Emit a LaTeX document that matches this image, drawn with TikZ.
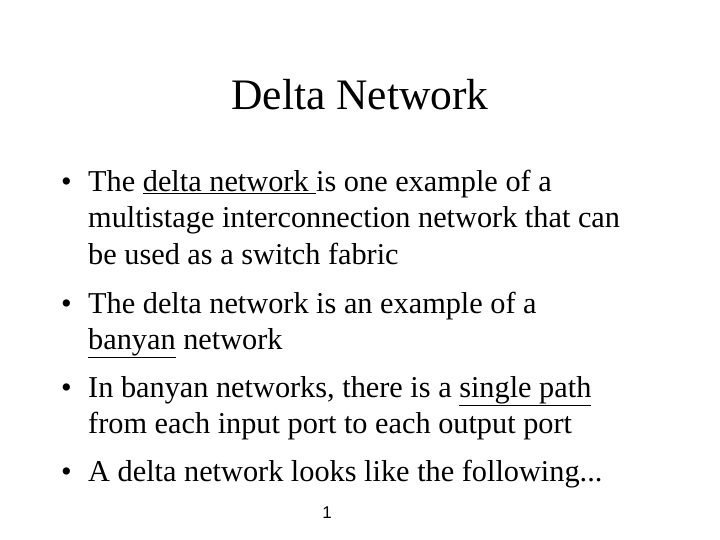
\documentclass[tikz,border=0pt]{standalone}
\usepackage{fontspec}
\setmainfont{Liberation Serif}
\newfontfamily\numfont{Liberation Sans}
\begin{document}
\begin{tikzpicture}[x=1pt,y=-1pt,
  line/.style={anchor=base west,inner sep=0pt,font=\fontsize{30.3}{34}\selectfont},
  bul/.style={anchor=base west,inner sep=0pt,font=\fontsize{30.3}{34}\selectfont}]
\useasboundingbox (0,0) rectangle (720,540);
\node[anchor=base,inner sep=0pt,font=\fontsize{43.5}{50}\selectfont] (title) at (360,110) {Delta Network};
\node[bul] (b1) at (61,192) {•};
\node[line] (l1) at (88,192) {The \underline{delta network }is one example of a};
\node[line] (l2) at (88,228) {multistage interconnection network that can};
\node[line] (l3) at (88,264) {be used as a switch fabric};
\node[bul] (b2) at (61,313) {•};
\node[line] (l4) at (88,313) {The delta network is an example of a};
\node[line] (l5) at (88,349) {\underline{banyan} network};
\node[bul] (b3) at (61,397) {•};
\node[line] (l6) at (88,397) {In banyan networks, there is a \underline{single path}};
\node[line] (l7) at (88,433) {from each input port to each output port};
\node[bul] (b4) at (61,481) {•};
\node[line] (l8) at (88,481) {A delta network looks like the following...};
\node[anchor=base,inner sep=0pt,font=\numfont\fontsize{17}{20}\selectfont] (pg) at (327,518) {1};
\end{tikzpicture}
\end{document}
